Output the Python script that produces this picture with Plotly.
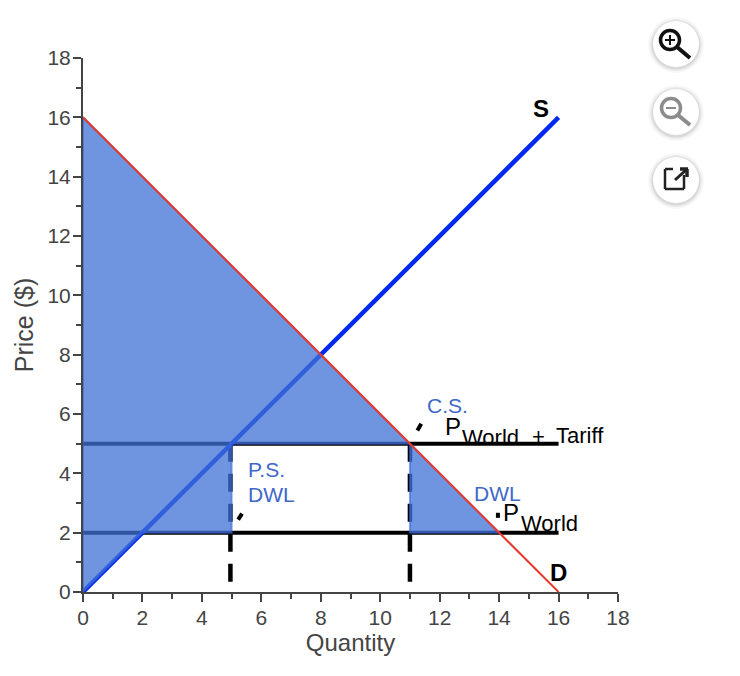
import plotly.graph_objects as go

# curves
supply_q = [0, 16]
supply_p = [0, 16]
demand_q = [0, 16]
demand_p = [16, 0]

# price levels and the quantities they meet
world_q = [0, 16]
world_p = [2, 2]
tariff_q = [0, 16]
tariff_p = [5, 5]
drop_left_q = [4.96, 4.96]
drop_right_q = [11, 11]
drop_p = [5, 0]

# shaded areas
left_area_q = [0, 0, 11, 5, 5, 2, 0]
left_area_p = [0, 16, 5, 5, 2, 2, 0]
right_area_q = [11, 14, 11, 11]
right_area_p = [5, 2, 2, 5]

# little leader marks next to the labels
mark_cs_q = [11.25, 11.38]
mark_cs_p = [5.44, 5.67]
mark_ps_q = [5.22, 5.35]
mark_ps_p = [2.44, 2.64]
mark_dwl_q = [13.96, 13.96]
mark_dwl_p = [2.5, 2.67]

W, H = 740, 676
L, R, T, B = 83, 122, 58, 84
BLUE_TEXT = "#4068c8"
AXIS = "#444444"


def px(x):
    return (x - L) / (W - L - R)


def py(y):
    return 1 - (y - T) / (H - T - B)


fig = go.Figure()


def line(xs, ys, color, width, dash="solid"):
    fig.add_trace(go.Scatter(x=xs, y=ys, mode="lines", cliponaxis=False,
                             line=dict(color=color, width=width, dash=dash)))


line(world_q, world_p, "black", 4)
line(tariff_q, tariff_p, "black", 4)
line(drop_left_q, drop_p, "black", 4.5, "18px,12px")
line(drop_right_q, drop_p, "black", 4.5, "18px,12px")
line(supply_q, supply_p, "#0028f0", 4.5)

for xs, ys in [(left_area_q, left_area_p), (right_area_q, right_area_p)]:
    fig.add_trace(go.Scatter(x=xs, y=ys, mode="lines", fill="toself",
                             fillcolor="rgba(64,113,213,0.75)", cliponaxis=False,
                             line=dict(color="rgba(60,100,215,0.6)", width=2)))

line(demand_q, demand_p, "#e53a2c", 2)
line(mark_cs_q, mark_cs_p, "black", 4)
line(mark_ps_q, mark_ps_p, "black", 4)
line(mark_dwl_q, mark_dwl_p, "black", 4)


def label(x, y, text, size=21, color="black", anchor="center", bold=False):
    if bold:
        text = f"<b>{text}</b>"
    fig.add_annotation(x=x, y=y, text=text, showarrow=False, xanchor=anchor,
                       yanchor="middle", font=dict(size=size, color=color))


label(15.42, 16.3, "S", 24, bold=True)
label(16, 0.66, "D", 24, bold=True)
label(12.26, 6.28, "C.S.", 21, BLUE_TEXT)
label(5.5, 4.14, "P.S.", 21, BLUE_TEXT, "left")
label(5.5, 3.3, "DWL", 21, BLUE_TEXT, "left")
label(13.94, 3.32, "DWL", 21, BLUE_TEXT)
label(12.46, 5.57, "P", 24)
label(13.71, 5.22, "World", 22)
label(15.31, 5.24, "+", 22)
label(15.86, 5.27, "Tariff", 22, anchor="left")
label(14.4, 2.67, "P", 24)
label(15.7, 2.3, "World", 22)

# zoom / popup buttons at the right
for cy in [44, 112, 180]:
    for grow, alpha in [(5, 0.03), (3, 0.05), (1.5, 0.07)]:
        r = 23 + grow
        fig.add_shape(type="circle", xref="paper", yref="paper", layer="above",
                      x0=px(676 - r), x1=px(676 + r), y0=py(cy + 1 - r), y1=py(cy + 1 + r),
                      fillcolor=f"rgba(0,0,0,{alpha})", line_width=0)
    fig.add_shape(type="circle", xref="paper", yref="paper", layer="above",
                  x0=px(653), x1=px(699), y0=py(cy - 23), y1=py(cy + 23),
                  fillcolor="white", line_width=0)


def icon_line(x0, y0, x1, y1, color, width):
    fig.add_shape(type="line", xref="paper", yref="paper", layer="above",
                  x0=px(x0), y0=py(y0), x1=px(x1), y1=py(y1),
                  line=dict(color=color, width=width))


def icon_ring(cx, cy, r, color):
    fig.add_shape(type="circle", xref="paper", yref="paper", layer="above",
                  x0=px(cx - r), x1=px(cx + r), y0=py(cy - r), y1=py(cy + r),
                  fillcolor="rgba(0,0,0,0)", line=dict(color=color, width=3.5))


icon_ring(670, 40, 9.5, "#111111")
icon_line(677, 47, 690, 58, "#111111", 4)
icon_line(665, 40, 675, 40, "#111111", 2)
icon_line(670, 35, 670, 45, "#111111", 2)

icon_ring(671, 108, 9.5, "#8c8c8c")
icon_line(678, 115, 690, 125, "#8c8c8c", 4)
icon_line(666, 108, 676, 108, "#8c8c8c", 2)

icon_line(684, 175, 684, 189, "#222222", 2.5)
icon_line(684, 189, 665, 189, "#222222", 2.5)
icon_line(665, 189, 665, 169, "#222222", 2.5)
icon_line(665, 169, 673, 169, "#222222", 2.5)
icon_line(675, 180, 686, 170, "#222222", 3)
icon_line(680, 169, 688, 169, "#222222", 3.5)
icon_line(687, 169, 687, 177, "#222222", 3.5)

axis_style = dict(
    range=[0, 18], dtick=2, tick0=0, ticks="outside", ticklen=8, tickwidth=2,
    tickcolor=AXIS, showline=True, linecolor=AXIS, linewidth=2, showgrid=False,
    zeroline=False, tickfont=dict(size=21, color=AXIS), ticklabelstandoff=-2,
    minor=dict(dtick=1, tick0=0, ticks="outside", ticklen=5, tickwidth=2, tickcolor=AXIS, showgrid=False),
)

fig.update_layout(
    width=W, height=H, showlegend=False, plot_bgcolor="white", paper_bgcolor="white",
    font=dict(family="Liberation Sans, Arial, sans-serif"),
    margin=dict(l=L, r=R, t=T, b=B),
    xaxis=dict(title=dict(text="Quantity", font=dict(size=24, color=AXIS), standoff=6), **axis_style),
    yaxis=dict(title=dict(text="Price ($)", font=dict(size=25, color=AXIS), standoff=7), **axis_style),
)

# page margin off so the chart sits at the window corner
fig.write_html("out.html", config={"displayModeBar": False},
               post_script="document.body.style.margin='0';")
